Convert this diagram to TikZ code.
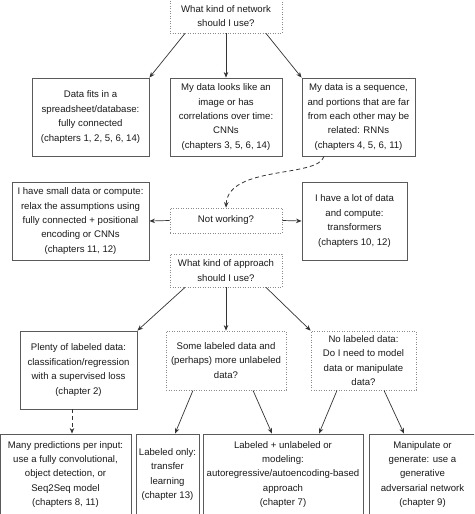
\documentclass[tikz,border=0pt]{standalone}
\usepackage{fontspec}
\setmainfont{Liberation Sans}
\usetikzlibrary{arrows.meta}
\definecolor{edgec}{HTML}{5A5A5A}
\definecolor{dotc}{HTML}{8A8A8A}
\definecolor{arrc}{HTML}{333333}
\definecolor{txtc}{HTML}{1A1A1A}
\tikzset{
  basebox/.style={align=center, inner sep=0pt, text=txtc,
    font=\fontsize{9.6}{14.4}\selectfont},
  solidbox/.style={basebox, draw=edgec, line width=0.9pt},
  dotbox/.style={basebox, draw=dotc, line width=0.8pt, dash pattern=on 0.9pt off 1.6pt},
  conn/.style={draw=arrc, line width=0.7pt, -{Stealth[length=5.5pt,width=4.5pt]}},
  dconn/.style={draw=dotc, line width=0.8pt, dash pattern=on 4pt off 3pt, -{Stealth[length=5.5pt,width=4.5pt]}, arrc},
  sz/.style 2 args={minimum width=#1pt, minimum height=#2pt}
}
\begin{document}
\begin{tikzpicture}[x=1pt,y=-1pt]
\useasboundingbox (0,0) rectangle (474,514);
\fill[white] (0,0) rectangle (474,514);
\begin{scope}
\clip (0,0) rectangle (474,514);
% top question
\node[dotbox, sz={112}{34}] (q1) at (226,16) {What kind of network\\should I use?};
% row 1
\node[solidbox, sz={117}{78}] (b1) at (90.5,117) {Data fits in a\\spreadsheet/database:\\fully connected\\(chapters 1, 2, 5, 6, 14)};
\node[solidbox, sz={112}{78}] (b2) at (226,117) {My data looks like an\\image or has\\correlations over time:\\CNNs\\(chapters 3, 5, 6, 14)};
\node[solidbox, sz={113}{78}] (b3) at (358.5,117) {My data is a sequence,\\and portions that are far\\from each other may be\\related: RNNs\\(chapters 4, 5, 6, 11)};
% row 2
\node[solidbox, sz={137}{78}] (l2) at (80.5,221) {I have small data or compute:\\relax the assumptions using\\fully connected + positional\\encoding or CNNs\\(chapters 11, 12)};
\node[dotbox, sz={112}{25}] (nw) at (226,220.5) {Not working?};
\node[solidbox, sz={105}{78}] (r2) at (354.5,221) {I have a lot of data\\and compute:\\transformers\\(chapters 10, 12)};
% second question
\node[dotbox, sz={112}{33}] (q2) at (226,270.5) {What kind of approach\\should I use?};
% row 3
\node[solidbox, sz={117}{78}] (p3) at (78.5,370) {Plenty of labeled data:\\classification/regression\\with a supervised loss\\(chapter 2)};
\node[dotbox, sz={120}{59}] (s3) at (226,360.5) {Some labeled data and\\(perhaps) more unlabeled\\data?};
\node[dotbox, sz={105}{59}] (n3) at (363.5,360.5) {No labeled data:\\Do I need to model\\data or manipulate\\data?};
% row 4
\node[solidbox, sz={131}{81}] (m4) at (65.5,474.5) {Many predictions per input:\\use a fully convolutional,\\object detection, or\\Seq2Seq model\\(chapters 8, 11)};
\node[solidbox, sz={63}{81}] (t4) at (167.5,474.5) {Labeled only:\\transfer\\learning\\(chapter 13)};
\node[solidbox, sz={160}{81}] (u4) at (283,474.5) {Labeled + unlabeled or\\modeling:\\autoregressive/autoencoding-based\\approach\\(chapter 7)};
\node[solidbox, sz={107}{81}] (g4) at (422.5,474.5) {Manipulate or\\generate: use a\\generative\\adversarial network\\(chapter 9)};
\end{scope}
% connectors
\draw[conn] ([xshift=-41pt]q1.south) -- (b1.north east);
\draw[conn] (q1.south) -- (b2.north);
\draw[conn] ([xshift=40pt]q1.south) -- (b3.north west);
\draw[dconn] ([xshift=-34.5pt]b3.south) .. controls (318,178) and (228,165) .. (nw.north);
\draw[conn] (nw.west) -- (l2.east);
\draw[conn] (nw.east) -- (r2.west);
\draw[conn] ([xshift=-41pt]q2.south) -- (p3.north east);
\draw[conn] (q2.south) -- (s3.north);
\draw[conn] ([xshift=40pt]q2.south) -- (n3.north west);
\draw[dconn] ([xshift=-6.5pt]p3.south) -- ([xshift=-6.5pt]p3.south |- m4.north);
\draw[conn] ([xshift=-33pt]s3.south) -- ([xshift=7.5pt]t4.north);
\draw[conn] ([xshift=27pt]s3.south) -- ([xshift=-11pt]u4.north);
\draw[conn] ([xshift=-26.5pt]n3.south) -- ([xshift=36pt]u4.north);
\draw[conn] ([xshift=20.5pt]n3.south) -- ([xshift=-18.5pt]g4.north);
\end{tikzpicture}
\end{document}
